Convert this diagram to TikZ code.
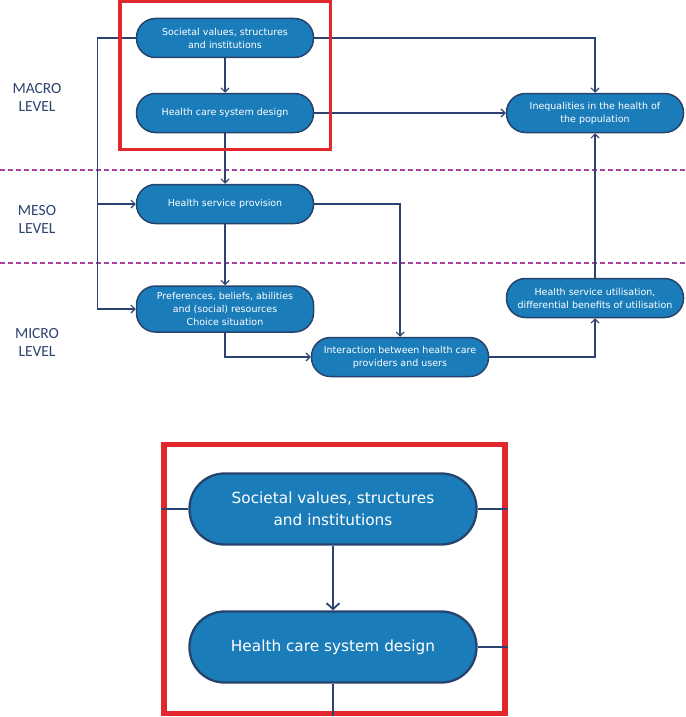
\documentclass[tikz,border=0pt]{standalone}
\usepackage{fontspec}
\setmainfont{DejaVu Sans}
\newfontfamily\levelfont{Carlito}
\usetikzlibrary{arrows.meta,fit,positioning}
\definecolor{boxblue}{HTML}{1A7DBA}
\definecolor{boxedge}{HTML}{26436E}
\definecolor{linenavy}{HTML}{2C4270}
\definecolor{framered}{HTML}{E1262C}
\definecolor{levelpurple}{HTML}{A6409E}

\begin{document}
\begin{tikzpicture}[x=1pt,y=-1pt,
  proc/.style={draw=boxedge,line width=1.5pt,fill=boxblue,text=white,
               rounded corners=19pt,minimum width=177pt,minimum height=39pt,
               align=center,inner sep=2pt,
               font=\fontsize{9.5}{13}\selectfont},
  bigproc/.style={proc,line width=2.3pt,rounded corners=35pt,
                  minimum width=287pt,minimum height=71pt,
                  font=\fontsize{15.3}{22}\selectfont},
  lvl/.style={text=linenavy,align=center,
              font=\levelfont\fontsize{15.5}{18}\selectfont},
  link/.style={draw=linenavy,line width=1.1pt},
  flow/.style={link,-{Straight Barb[length=4pt,width=8pt]}},
  bigflow/.style={link,line width=1.8pt,-{Straight Barb[length=6pt,width=13pt]}},
  divide/.style={draw=levelpurple,line width=1.2pt,dash pattern=on 5pt off 3pt},
  frame/.style={draw=framered,line width=3.5pt}]
  \useasboundingbox (0,0) rectangle (685,717);

  % level bands
  \draw[divide] (0,170) -- (685,170);
  \draw[divide] (0,263) -- (685,263);
  \node[lvl] (macro) at (37,97) {MACRO\\LEVEL};
  \node[lvl] (meso) at (37,219) {MESO\\LEVEL};
  \node[lvl] (micro) at (37,342) {MICRO\\LEVEL};

  % boxes
  \node[proc] (soc) at (225,38) {Societal values, structures\\and institutions};
  \node[proc] (hcs) at (225,113) {Health care system design};
  \node[proc] (ineq) at (595,113) {Inequalities in the health of\\the population};
  \node[proc] (prov) at (225,204) {Health service provision};
  \node[proc,minimum height=46pt] (pref) at (225,309)
    {Preferences, beliefs, abilities\\and (social) resources\\Choice situation};
  \node[proc] (inter) at (400,357) {Interaction between health care\\providers and users};
  \node[proc] (util) at (595,298) {Health service utilisation,\\differential benefits of utilisation};

  % connectors
  \draw[flow] (soc) -- (hcs);
  \draw[flow] (hcs) -- (prov);
  \draw[flow] (prov) -- (pref);
  \draw[flow] (soc.west) -| ([xshift=-38pt]pref.west) -- (pref.west);
  \draw[flow] ([xshift=-38pt]prov.west) -- (prov.west);
  \draw[flow] (soc.east) -| (ineq.north);
  \draw[flow] (hcs.east) -- (ineq.west);
  \draw[flow] (prov.east) -| (inter.north);
  \draw[flow] (pref.south) |- (inter.west);
  \draw[flow] (inter.east) -| (util.south);
  \draw[flow] (util) -- (ineq);

  \node[frame,fit=(soc)(hcs),inner xsep=16pt,inner ysep=16pt] (focus) {};

  % enlarged detail
  \node[bigproc] (socbig) at (333,509) {Societal values, structures\\and institutions};
  \node[bigproc] (hcsbig) at (333,647) {Health care system design};
  \node[frame,line width=5.5pt,minimum width=341pt,minimum height=269pt] (zoombox) at (334.5,579) {};
  \draw[bigflow] (socbig) -- (hcsbig);
  \draw[link,line width=1.8pt] (socbig.west) -- (socbig.west -| zoombox.west);
  \draw[link,line width=1.8pt] (socbig.east) -- (socbig.east -| zoombox.east);
  \draw[link,line width=1.8pt] (hcsbig.east) -- (hcsbig.east -| zoombox.east);
  \draw[link,line width=1.8pt] (hcsbig.south) -- (hcsbig.south |- zoombox.south);
\end{tikzpicture}
\end{document}
